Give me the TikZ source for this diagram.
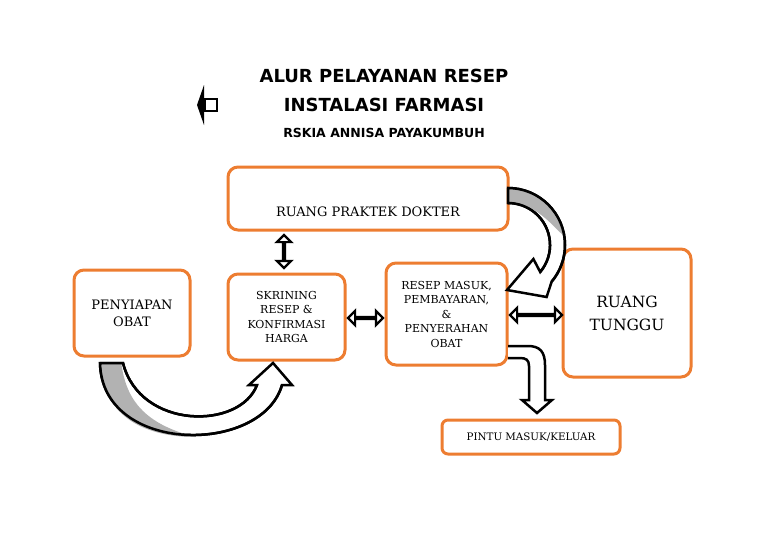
\documentclass[tikz,border=0pt]{standalone}
\usepackage{fontspec}
\setmainfont{DejaVu Serif}
\newfontfamily\sansb{DejaVu Sans}
\usetikzlibrary{shapes.arrows}
\definecolor{org}{HTML}{ED7D31}
\begin{document}
\begin{tikzpicture}[x=1pt,y=-1pt,
 box/.style={draw=org,line width=3pt,rounded corners=10pt,fill=white,align=center,inner sep=0pt},
 blk/.style={draw=black,line width=2.5pt,fill=white,line join=miter},
 dbl/.style={double arrow,draw=black,line width=2.2pt,fill=white,inner sep=0pt,minimum height=#1,minimum width=7pt,double arrow head extend=6pt,double arrow head indent=0pt}]
\useasboundingbox (0,0) rectangle (768,543);
% title
\node (t1) at (384,76) {\sansb\bfseries\fontsize{18}{20}\selectfont ALUR PELAYANAN RESEP};
\node (t2) at (384,105) {\sansb\bfseries\fontsize{18}{20}\selectfont INSTALASI FARMASI};
\node (t3) at (384,133) {\sansb\bfseries\fontsize{12.5}{14}\selectfont RSKIA ANNISA PAYAKUMBUH};
\fill (197,105) -- (204,85) -- (204,125) -- cycle;
\draw[line width=2pt,fill=white] (205,99) rectangle (217,111);
% boxes
\node[box,minimum width=280pt,minimum height=63pt] (dok) at (368,198.5) {};
\node[font=\fontsize{13}{15}\selectfont] (dokt) at (368,212) {RUANG PRAKTEK DOKTER};
\node[box,minimum width=116pt,minimum height=86pt,font=\fontsize{13}{17}\selectfont] (pen) at (132,313) {PENYIAPAN\\OBAT};
\node[box,minimum width=117pt,minimum height=86pt,font=\fontsize{11}{14.5}\selectfont] (skr) at (286.5,317) {SKRINING\\RESEP \&\\KONFIRMASI\\HARGA};
\node[box,minimum width=121pt,minimum height=102pt,font=\fontsize{11}{14.5}\selectfont] (res) at (446.5,314) {RESEP MASUK,\\PEMBAYARAN,\\\&\\PENYERAHAN\\OBAT};
\node[box,minimum width=128pt,minimum height=128pt,font=\fontsize{15.5}{23}\selectfont] (tun) at (627,313) {RUANG\\TUNGGU};
\node[box,minimum width=178pt,minimum height=34pt,rounded corners=6pt,font=\fontsize{10.3}{12}\selectfont] (pin) at (531,437) {PINTU MASUK/KELUAR};
% double arrows
\node[dbl=33pt,rotate=90] (a1) at (284,251.5) {};
\node[dbl=35pt] (a2) at (365.5,318) {};
\node[dbl=52pt] (a3) at (536,315) {};
% top curved arrow
\draw[blk] (508,188) arc[start angle=-90,end angle=40,radius=57] -- (546.6,297) -- (507,290) -- (533.4,259) -- (540.2,272) arc[start angle=40,end angle=-90,radius=42] -- cycle;
\fill[gray!60] (509,189.3) arc[start angle=-90,end angle=-10,radius=55.7] .. controls (555,230) and (540,205) .. (509,201.7) -- cycle;
\draw[line width=2.5pt] (508,188) arc[start angle=-90,end angle=40,radius=57];
\draw[line width=2.5pt] (540.2,272) arc[start angle=40,end angle=-90,radius=42] -- (508,188);
% bent down arrow
\draw[blk] (508,346) -- (528,346) .. controls (540,346) and (545,352) .. (545,365) -- (545,400) -- (552,400) -- (537,413) -- (522,400) -- (529,400) -- (529,366) .. controls (529,360) and (526,358) .. (520,358) -- (508,358);
% bottom curved arrow
\draw[blk] (100,363) .. controls (102,455) and (262,455) .. (282,385) -- (292,385) -- (273,363) -- (249,385) -- (257,385) .. controls (240,430) and (140,430) .. (123,363) -- cycle;
\fill[gray!60] (101.5,364.5) .. controls (103,420) and (150,437) .. (195,437) .. controls (150,425) and (127,405) .. (121.5,364.5) -- cycle;
\draw[line width=2.5pt] (100,363) .. controls (102,455) and (262,455) .. (282,385);
\draw[line width=2.5pt] (257,385) .. controls (240,430) and (140,430) .. (123,363) -- (100,363);
\end{tikzpicture}
\end{document}
